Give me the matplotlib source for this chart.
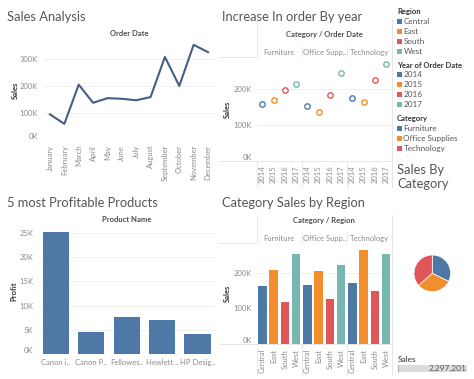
import matplotlib
matplotlib.use("Agg")
import matplotlib.pyplot as plt
from matplotlib.patches import Rectangle

plt.rcParams['font.family'] = ['Lato', 'DejaVu Sans']

# ---------------- data ----------------
months = ["January", "February", "March", "April", "May", "June", "July",
          "August", "September", "October", "November", "December"]
monthly_sales = [95000, 59800, 205000, 137800, 155000, 152700, 147200,
                 159000, 307700, 200300, 352500, 325300]

categories = ["Furniture", "Office Supplies", "Technology"]
category_headers = ["Furniture", "Office Supp..", "Technology"]
years = ["2014", "2015", "2016", "2017"]
furniture_by_year = [157200, 170500, 198900, 215400]
office_by_year = [151800, 137200, 183900, 246100]
technology_by_year = [175300, 162800, 226400, 271700]

regions = ["Central", "East", "South", "West"]
furniture_by_region = [163800, 208300, 117300, 252600]
office_by_region = [167000, 205500, 125700, 220900]
technology_by_region = [170400, 265000, 148800, 252000]

products = ["Canon i..", "Canon P..", "Fellowes..", "Hewlett ..", "HP Desig.."]
product_profit = [25200, 4570, 7750, 6980, 4095]

pie_sales = [742000, 719000, 836500]
total_sales_label = "2,297,201"

palette = ['#4e79a7', '#f28e2b', '#e15759', '#76b7b2']

# ---------------- layout helpers ----------------
W, H = 474, 379
fig = plt.figure(figsize=(W / 100, H / 100), dpi=100)
fig.patch.set_facecolor('white')


def rect(l, t, r, b):
    return [l / W, 1 - b / H, (r - l) / W, (b - t) / H]


TICK_C = '#8c8c8c'
HEAD_C = '#4d4d4d'
TITLE_C = '#555555'
GRID_C = '#eeeeee'
SEP_C = '#e2e2e2'
TITLE_FS = 9.3


def kfmt(v):
    return f"{v / 1000:.0f}K"


def style_axes(ax, yticks):
    for s in ax.spines.values():
        s.set_visible(False)
    ax.set_yticks(yticks)
    ax.set_yticklabels([kfmt(v) for v in yticks])
    ax.tick_params(length=0, labelsize=5.5, labelcolor=TICK_C, pad=3.5)
    ax.yaxis.grid(True, color=GRID_C, lw=0.6)
    ax.set_axisbelow(True)
    ax.yaxis.get_major_ticks()[0].label1.set_va('bottom')


# overlay axes in pixel coordinates
ov = fig.add_axes([0, 0, 1, 1], zorder=-1)
ov.set_xlim(0, W)
ov.set_ylim(H, 0)
ov.axis('off')


def hline(y, x0, x1):
    ov.plot([x0, x1], [y, y], color=SEP_C, lw=0.6)


def vline(x, y0, y1):
    ov.plot([x, x], [y0, y1], color=SEP_C, lw=0.6)


# ---------------- Sales Analysis (line) ----------------
ov.text(7, 17, "Sales Analysis", fontsize=TITLE_FS, color=TITLE_C, va='center', ha='left')
ax1 = fig.add_axes(rect(42.8, 41, 215.2, 140))
x = list(range(len(months)))
ax1.plot(x, monthly_sales, color='#435f82', lw=1.5)
ax1.set_xlim(-0.5, 11.5)
ax1.set_ylim(0, 366700)
style_axes(ax1, [0, 100000, 200000, 300000])
ax1.set_xticks(x)
ax1.set_xticklabels(months, rotation=90, va='top')
ax1.set_ylabel("Sales", fontsize=5.5, color='#333333', fontweight='bold', labelpad=0.8)
ov.text(129, 34, "Order Date", fontsize=5.5, color=HEAD_C, fontweight='bold', ha='center', va='center')

# ---------------- Increase In order By year (scatter) ----------------
ov.text(221.7, 16.7, "Increase In order By year", fontsize=TITLE_FS, color=TITLE_C, va='center', ha='left')
ax2 = fig.add_axes(rect(256.7, 57, 391.7, 160.7))
year_series = [furniture_by_year, office_by_year, technology_by_year]
xt, xl = [], []
for ci, vals in enumerate(year_series):
    for yi, v in enumerate(vals):
        xp = ci * 4 + yi
        ax2.scatter([xp], [v], s=15, facecolors='white', edgecolors=palette[yi], linewidths=1.0, zorder=3)
        xt.append(xp)
        xl.append(years[yi])
ax2.set_xlim(-0.5, 11.5)
ax2.set_ylim(0, 290000)
style_axes(ax2, [0, 100000, 200000])
ax2.set_xticks(xt)
ax2.set_xticklabels(xl, rotation=90, va='top')
ax2.set_ylabel("Sales", fontsize=5.5, color='#333333', fontweight='bold', labelpad=2)
ov.text(324.2, 34, "Category / Order Date", fontsize=5.5, color=HEAD_C, fontweight='bold', ha='center', va='center')
for i, h in enumerate(category_headers):
    ov.text(256.7 + 45 * i + 22.5, 52.7, h, fontsize=5.5, color=TICK_C, ha='center', va='center')
hline(57, 220, 392)
hline(160.7, 220, 392)
vline(256.7, 20, 187)
vline(301.7, 47, 187)
vline(346.7, 47, 187)
vline(391.7, 20, 187)

# ---------------- Legends ----------------
def legend_block(title, y_title, labels, y0):
    ov.text(397, y_title, title, fontsize=5.5, color='#333333', fontweight='bold', ha='left', va='center')
    for i, lab in enumerate(labels):
        yy = y0 + 10 * i
        ov.add_patch(Rectangle((397.3, yy - 2.5), 4.8, 4.8, facecolor=palette[i], edgecolor='none'))
        ov.text(403.5, yy, lab, fontsize=5.9, color='#555555', ha='left', va='center')


legend_block("Region", 11.7, regions, 21.3)
legend_block("Year of Order Date", 65.7, years, 74.7)
legend_block("Category", 118.7, categories, 128.3)
ov.text(397, 170, "Sales By", fontsize=TITLE_FS, color=TITLE_C, ha='left', va='center')
ov.text(397, 184.3, "Category", fontsize=TITLE_FS, color=TITLE_C, ha='left', va='center')

# ---------------- 5 most Profitable Products (bar) ----------------
ov.text(7.3, 203.3, "5 most Profitable Products", fontsize=TITLE_FS, color=TITLE_C, va='center', ha='left')
ax3 = fig.add_axes(rect(38.2, 228, 215.1, 354.3))
ax3.bar(range(len(products)), product_profit, width=0.74, color='#4e79a7')
ax3.set_xlim(-0.5, 4.5)
ax3.set_ylim(0, 26000)
style_axes(ax3, [0, 5000, 10000, 15000, 20000, 25000])
ax3.set_xticks(range(len(products)))
ax3.set_xticklabels(products)
ax3.set_ylabel("Profit", fontsize=5.5, color='#333333', fontweight='bold', labelpad=1.5)
ov.text(126.6, 220, "Product Name", fontsize=5.5, color=HEAD_C, fontweight='bold', ha='center', va='center')

# ---------------- Category Sales by Region (bar) ----------------
ov.text(221.7, 203.3, "Category Sales by Region", fontsize=TITLE_FS, color=TITLE_C, va='center', ha='left')
ax4 = fig.add_axes(rect(256.7, 243.3, 391.7, 344))
region_series = [furniture_by_region, office_by_region, technology_by_region]
xt, xl = [], []
for ci, vals in enumerate(region_series):
    xs = [ci * 4 + ri for ri in range(len(regions))]
    ax4.bar(xs, vals, width=0.76, color=palette[:4])
    xt += xs
    xl += regions
ax4.set_xlim(-0.5, 11.5)
ax4.set_ylim(0, 283000)
style_axes(ax4, [0, 100000, 200000])
ax4.set_xticks(xt)
ax4.set_xticklabels(xl, rotation=90, va='top')
ax4.set_ylabel("Sales", fontsize=5.5, color='#333333', fontweight='bold', labelpad=2)
ov.text(324.2, 220, "Category / Region", fontsize=5.5, color=HEAD_C, fontweight='bold', ha='center', va='center')
for i, h in enumerate(category_headers):
    ov.text(256.7 + 45 * i + 22.5, 238.3, h, fontsize=5.5, color=TICK_C, ha='center', va='center')
hline(243.3, 220, 392)
hline(344, 220, 392)
vline(256.7, 215, 375)
vline(301.7, 233, 375)
vline(346.7, 233, 375)
vline(391.7, 215, 375)

# ---------------- Pie ----------------
ax5 = fig.add_axes(rect(432.3 - 18.3, 273.3 - 18.3, 432.3 + 18.3, 273.3 + 18.3))
ax5.pie(pie_sales, colors=palette[:3], startangle=90, counterclock=False,
        wedgeprops=dict(edgecolor='white', linewidth=0.5))
ax5.set_xlim(-1, 1)
ax5.set_ylim(-1, 1)
ax5.set_aspect('equal')

# ---------------- Sales size legend ----------------
ov.text(398, 359, "Sales", fontsize=6, color='#333333', ha='left', va='center')
ov.add_patch(Rectangle((398.3, 365), 68.4, 7.3, facecolor='#dcdcdc', edgecolor='none'))
ov.plot([398.5, 398.5], [365, 372.3], color='#999999', lw=0.5)
ov.text(466.7, 368.6, total_sales_label, fontsize=6, color='#555555', ha='right', va='center')

fig.savefig("out.png", dpi=100, facecolor='white')
